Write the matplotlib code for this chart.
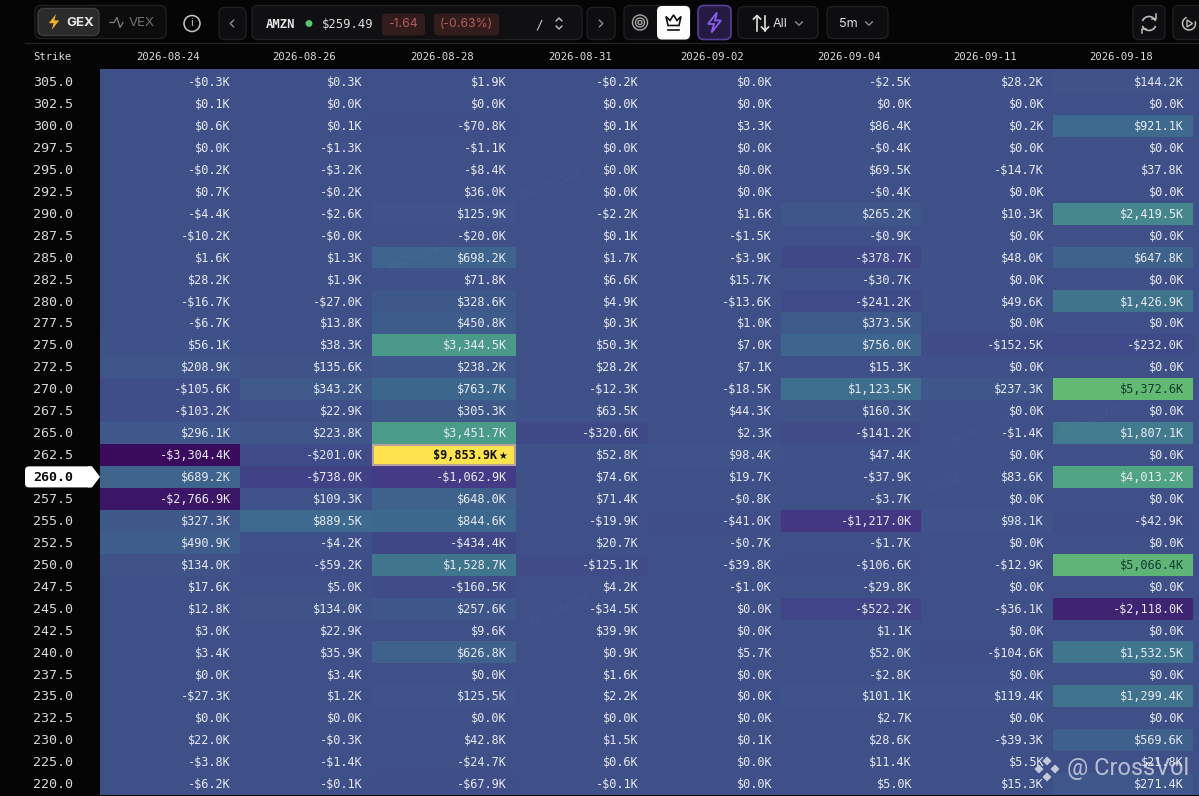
import matplotlib

matplotlib.use("Agg")

import matplotlib.pyplot as plt
import numpy as np
from matplotlib.colors import LinearSegmentedColormap, Normalize
from matplotlib.patches import Arc, Circle, FancyBboxPatch, Polygon, Rectangle

W, H = 1199, 796
MONO = "DejaVu Sans Mono"
SANS = "Inter"

expiries = ["2026-08-24", "2026-08-26", "2026-08-28", "2026-08-31",
            "2026-09-02", "2026-09-04", "2026-09-11", "2026-09-18"]
strikes = [305.0, 302.5, 300.0, 297.5, 295.0, 292.5, 290.0, 287.5, 285.0, 282.5, 280.0,
           277.5, 275.0, 272.5, 270.0, 267.5, 265.0, 262.5, 260.0, 257.5, 255.0, 252.5,
           250.0, 247.5, 245.0, 242.5, 240.0, 237.5, 235.0, 232.5, 230.0, 225.0, 220.0]
spot_strike = 260.0

# one list per expiry, $K, same order as strikes
gex_0824 = [-0.3, 0.1, 0.6, 0.0, -0.2, 0.7, -4.4, -10.2, 1.6, 28.2, -16.7, -6.7, 56.1, 208.9, -105.6, -103.2,
            296.1, -3304.4, 689.2, -2766.9, 327.3, 490.9, 134.0, 17.6, 12.8, 3.0, 3.4, 0.0, -27.3, 0.0, 22.0, -3.8, -6.2]
gex_0826 = [0.3, 0.0, 0.1, -1.3, -3.2, -0.2, -2.6, -0.0, 1.3, 1.9, -27.0, 13.8, 38.3, 135.6, 343.2, 22.9,
            223.8, -201.0, -738.0, 109.3, 889.5, -4.2, -59.2, 5.0, 134.0, 22.9, 35.9, 3.4, 1.2, 0.0, -0.3, -1.4, -0.1]
gex_0828 = [1.9, 0.0, -70.8, -1.1, -8.4, 36.0, 125.9, -20.0, 698.2, 71.8, 328.6, 450.8, 3344.5, 238.2, 763.7, 305.3,
            3451.7, 9853.9, -1062.9, 648.0, 844.6, -434.4, 1528.7, -160.5, 257.6, 9.6, 626.8, 0.0, 125.5, 0.0, 42.8, -24.7, -67.9]
gex_0831 = [-0.2, 0.0, 0.1, 0.0, 0.0, 0.0, -2.2, 0.1, 1.7, 6.6, 4.9, 0.3, 50.3, 28.2, -12.3, 63.5,
            -320.6, 52.8, 74.6, 71.4, -19.9, 20.7, -125.1, 4.2, -34.5, 39.9, 0.9, 1.6, 2.2, 0.0, 1.5, 0.6, -0.1]
gex_0902 = [0.0, 0.0, 3.3, 0.0, 0.0, 0.0, 1.6, -1.5, -3.9, 15.7, -13.6, 1.0, 7.0, 7.1, -18.5, 44.3,
            2.3, 98.4, 19.7, -0.8, -41.0, -0.7, -39.8, -1.0, 0.0, 0.0, 5.7, 0.0, 0.0, 0.0, 0.1, 0.0, 0.0]
gex_0904 = [-2.5, 0.0, 86.4, -0.4, 69.5, -0.4, 265.2, -0.9, -378.7, -30.7, -241.2, 373.5, 756.0, 15.3, 1123.5, 160.3,
            -141.2, 47.4, -37.9, -3.7, -1217.0, -1.7, -106.6, -29.8, -522.2, 1.1, 52.0, -2.8, 101.1, 2.7, 28.6, 11.4, 5.0]
gex_0911 = [28.2, 0.0, 0.2, 0.0, -14.7, 0.0, 10.3, 0.0, 48.0, 0.0, 49.6, 0.0, -152.5, 0.0, 237.3, 0.0,
            -1.4, 0.0, 83.6, 0.0, 98.1, 0.0, -12.9, 0.0, -36.1, 0.0, -104.6, 0.0, 119.4, 0.0, -39.3, 5.5, 15.3]
gex_0918 = [144.2, 0.0, 921.1, 0.0, 37.8, 0.0, 2419.5, 0.0, 647.8, 0.0, 1426.9, 0.0, -232.0, 0.0, 5372.6, 0.0,
            1807.1, 0.0, 4013.2, 0.0, -42.9, 0.0, 5066.4, 0.0, -2118.0, 0.0, 1532.5, 0.0, 1299.4, 0.0, 569.6, 21.8, 271.4]

gex = np.array([gex_0824, gex_0826, gex_0828, gex_0831, gex_0902, gex_0904, gex_0911, gex_0918]).T

# cell widths in the screenshot alternate, the table is not quite regular
col_edges = [100, 240, 372, 516, 648, 781, 921, 1053, 1193]
heat_stops = [(-3304.4, "#3a0a5c"), (-1100, "#433a85"), (-150, "#3f4c88"), (150, "#3f5389"), (900, "#3d6a8e"),
              (3400, "#4a9a8a"), (5400, "#62ba72"), (9853.9, "#fde44f")]


def money(v):
    sign = "-" if np.signbit(v) else ""
    return f"{sign}${abs(v):,.1f}K"


fig = plt.figure(figsize=(W / 100, H / 100), dpi=100, facecolor="#050506")

# table axes: x in screenshot pixels, y in row numbers
row_h = 21.94
top = 71.0
n_rows = len(strikes)
ax = fig.add_axes([0, 1 - (top + n_rows * row_h) / H, 1, n_rows * row_h / H])
ax.set_xlim(0, W)
ax.set_ylim(n_rows, 0)
ax.axis("off")

vmin, vmax = heat_stops[0][0], heat_stops[-1][0]
cmap = LinearSegmentedColormap.from_list(
    "gex", [((v - vmin) / (vmax - vmin), c) for v, c in heat_stops], N=2048)
ax.add_patch(Rectangle((100, -0.1), W - 100, n_rows + 0.1, facecolor="#3f5088", edgecolor="none", zorder=0, clip_on=False))
ax.pcolormesh(col_edges, np.arange(n_rows + 1), gex, cmap=cmap, norm=Normalize(vmin, vmax),
              shading="flat", zorder=1)

text_right = [e - 9 for e in col_edges[1:]]
peak = np.unravel_index(np.argmax(gex), gex.shape)
for r, strike in enumerate(strikes):
    is_spot = strike == spot_strike
    if is_spot:
        ax.add_patch(FancyBboxPatch((25, r + 0.02), 68, 0.96, boxstyle="round,pad=0,rounding_size=4",
                                    mutation_aspect=row_h ** -1, fc="white", ec="none", zorder=3))
        ax.add_patch(Polygon([(88, r + 0.02), (92, r + 0.02), (100, r + 0.5), (92, r + 0.98), (88, r + 0.98)],
                             fc="white", ec="none", zorder=3))
    ax.text(33, r + 0.53, f"{strike:.1f}", family=MONO, fontsize=9.6, va="center", ha="left", zorder=4,
            color="#0a0a0a" if is_spot else "#d8d8d8", fontweight="bold" if is_spot else "normal")
    for c, right in enumerate(text_right):
        v = gex[r, c]
        if (r, c) == peak:
            continue
        ax.text(right, r + 0.53, money(v), family=MONO, fontsize=8.6, ha="right", va="center",
                color="#123a35" if v > 5000 else "#e8ebf3", zorder=4)

# strongest cell gets the outlined highlight
pr, pc = peak
ax.add_patch(Rectangle((col_edges[pc] + 1, pr + 0.04), col_edges[pc + 1] - col_edges[pc] - 2, 0.92,
                       fc="#fde44f", ec="#b8a09a", lw=1.5, zorder=3))
ax.text(text_right[pc] - 10, pr + 0.53, money(gex[pr, pc]), family=MONO, fontsize=8.6, fontweight="bold",
        ha="right", va="center", color="#111111", zorder=4)
ax.text(text_right[pc] - 4, pr + 0.53, "★", family="DejaVu Sans", fontsize=7, ha="center", va="center",
        color="#111111", zorder=4)

# header row and the stamp, in pixel coordinates
hd = fig.add_axes([0, 0, 1, 1], facecolor="none")
hd.set_xlim(0, W)
hd.set_ylim(H, 0)
hd.axis("off")

# toolbar sits in its own pixel overlay
ui = fig.add_axes([0, 0, 1, 1], facecolor="none")
ui.set_xlim(0, W)
ui.set_ylim(H - 2.5, -2.5)
ui.axis("off")


def box(x0, y0, x1, y1, fc="#0e0e10", ec="#1f1f22", r=6, lw=1.0):
    ui.add_patch(FancyBboxPatch((x0, y0), x1 - x0, y1 - y0, boxstyle=f"round,pad=0,rounding_size={r}",
                                fc=fc, ec=ec, lw=lw))


def chevron(x, y, s, d="down", color="#8a8a8a", lw=1.0):
    pts = {"down": [(x - s, y - s / 2), (x, y + s / 2), (x + s, y - s / 2)],
           "up": [(x - s, y + s / 2), (x, y - s / 2), (x + s, y + s / 2)],
           "left": [(x + s / 2, y - s), (x - s / 2, y), (x + s / 2, y + s)],
           "right": [(x - s / 2, y - s), (x + s / 2, y), (x - s / 2, y + s)]}[d]
    ui.plot(*zip(*pts), color=color, lw=lw, solid_capstyle="round")


def bolt(x, y, s, fc, ec="none", lw=1.0):
    pts = [(0.25, -1), (-0.65, 0.15), (-0.05, 0.15), (-0.3, 1), (0.65, -0.2), (0.05, -0.2)]
    ui.add_patch(Polygon([(x + a * s, y + b * s) for a, b in pts], fc=fc, ec=ec, lw=lw))


hd.plot([25, W], [43, 43], color="#222225", lw=1)

# GEX / VEX switch
box(35, 3, 166, 36, fc="#0c0c0d")
box(38, 6, 99, 33, fc="#2b2b2b", ec="#3e3e3e")
bolt(54, 19.5, 8, "#f5b32a")
ui.text(66, 20, "GEX", family=SANS, fontsize=9.5, fontweight="bold", color="#e8e8e8", va="center")
ui.plot([110, 114, 117, 120, 123], [20, 20, 15, 25, 20], color="#777777", lw=1)
ui.text(129, 20, "VEX", family=SANS, fontsize=9.5, color="#707070", va="center")

ui.add_patch(Circle((192, 21), 8, fc="none", ec="#c8c8c8", lw=1.1))
ui.text(192, 21, "i", family=SANS, fontsize=8, color="#c8c8c8", ha="center", va="center")

box(219, 5, 246, 37)
chevron(232, 21, 3.5, "left")

# ticker strip
box(252, 3, 582, 37, fc="#101012")
ui.text(266, 21.5, "AMZN", family=MONO, fontsize=8.8, color="#e6e6e6", va="center", fontweight="bold")
ui.add_patch(Circle((309, 21), 3.4, fc="#57c76f", ec="none"))
ui.text(322, 21.5, "$259.49", family=MONO, fontsize=8.8, color="#dcdcdc", va="center")
box(382, 11, 425, 33, fc="#331c1c", ec="none", r=4)
ui.text(403, 21.5, "-1.64", family=SANS, fontsize=8.8, color="#b55a5a", ha="center", va="center")
box(434, 11, 499, 33, fc="#331c1c", ec="none", r=4)
ui.text(466, 21.5, "(-0.63%)", family=SANS, fontsize=8.8, color="#b55a5a", ha="center", va="center")
ui.text(539, 22, "/", family=MONO, fontsize=9, color="#d0d0d0", ha="center", va="center")
chevron(559, 17, 3, "up", "#c0c0c0")
chevron(559, 25, 3, "down", "#c0c0c0")

box(587, 5, 615, 37)
chevron(601, 21, 3.5, "right")

# view toggles
box(624, 3, 690, 37, fc="#0e0e10")
for rad in (7.5, 4.5, 2):
    ui.add_patch(Circle((640, 20), rad, fc="none", ec="#a8a8a8", lw=1))
box(657, 3.5, 690, 37, fc="#fdfdfd", ec="none", r=5)
ui.add_patch(Polygon([(666, 14), (670, 18), (673.5, 12.5), (677, 18), (681, 14), (679, 23), (668, 23)],
                     fc="none", ec="#111111", lw=1.2))
ui.plot([668, 679], [27, 27], color="#111111", lw=1.2)

box(698, 3, 731, 37, fc="#241a42", ec="#5a3f9a", r=6, lw=1.2)
bolt(714.5, 20, 10, "none", ec="#8a5df0", lw=1.3)

box(738, 4, 818, 36)
ui.plot([757, 757], [13, 28], color="#e0e0e0", lw=1.2)
ui.plot([753.5, 757, 760.5], [16.5, 13, 16.5], color="#e0e0e0", lw=1.2)
ui.plot([765, 765], [13, 28], color="#e0e0e0", lw=1.2)
ui.plot([761.5, 765, 768.5], [24.5, 28, 24.5], color="#e0e0e0", lw=1.2)
ui.text(773, 21.5, "All", family=SANS, fontsize=9, color="#e0e0e0", va="center")
chevron(799, 21, 3.5)

box(827, 4, 888, 36)
ui.text(839, 21.5, "5m", family=SANS, fontsize=9, color="#e0e0e0", va="center")
chevron(869, 21, 3.5)

box(1133, 3, 1165, 37)
ui.add_patch(Arc((1149, 21), 14, 14, theta1=20, theta2=160, ec="#bdbdbd", lw=1.2))
ui.add_patch(Arc((1149, 21), 14, 14, theta1=200, theta2=340, ec="#bdbdbd", lw=1.2))
ui.plot([1156, 1156, 1152], [11.5, 16, 16], color="#bdbdbd", lw=1.1)
ui.plot([1142, 1142, 1146], [30.5, 26, 26], color="#bdbdbd", lw=1.1)
box(1173, 3, 1215, 37)
ui.add_patch(Arc((1189, 21), 13, 13, theta1=-20, theta2=250, ec="#bdbdbd", lw=1.1))
ui.add_patch(Polygon([(1187, 17.5), (1187, 24.5), (1192.5, 21)], fc="none", ec="#bdbdbd", lw=1))

# column headers
hd.text(33, 56.5, "Strike", family=MONO, fontsize=7.6, color="#dcdcdc", va="center")
for i, label in enumerate(expiries):
    hd.text((col_edges[i] + col_edges[i + 1]) / 2 - 2, 56.5, label, family=MONO, fontsize=7.6,
            color="#dcdcdc", ha="center", va="center")

# faint diagonal marks across the table, then the logo stamp
for x, y in [(420, 255), (550, 185), (980, 430), (560, 610), (930, 490), (1090, 420)]:
    hd.text(x, y, "@CrossVol", family=SANS, fontsize=9, color="white", alpha=0.035,
            rotation=22, ha="center", va="center")

stamp = "#e6e8ee"
for dx, dy in [(0, -8), (-8, 0), (8, 0), (0, 8)]:
    hd.add_patch(Polygon([(1047 + dx - 4.5, 769 + dy), (1047 + dx, 769 + dy - 4.5),
                          (1047 + dx + 4.5, 769 + dy), (1047 + dx, 769 + dy + 4.5)],
                         fc=stamp, ec="none", alpha=0.8))
hd.text(1067, 769, "@ CrossVol", family="Roboto", fontsize=17, color=stamp, alpha=0.72, va="center")

fig.savefig("out.png", dpi=100, facecolor=fig.get_facecolor())
plt.close(fig)
